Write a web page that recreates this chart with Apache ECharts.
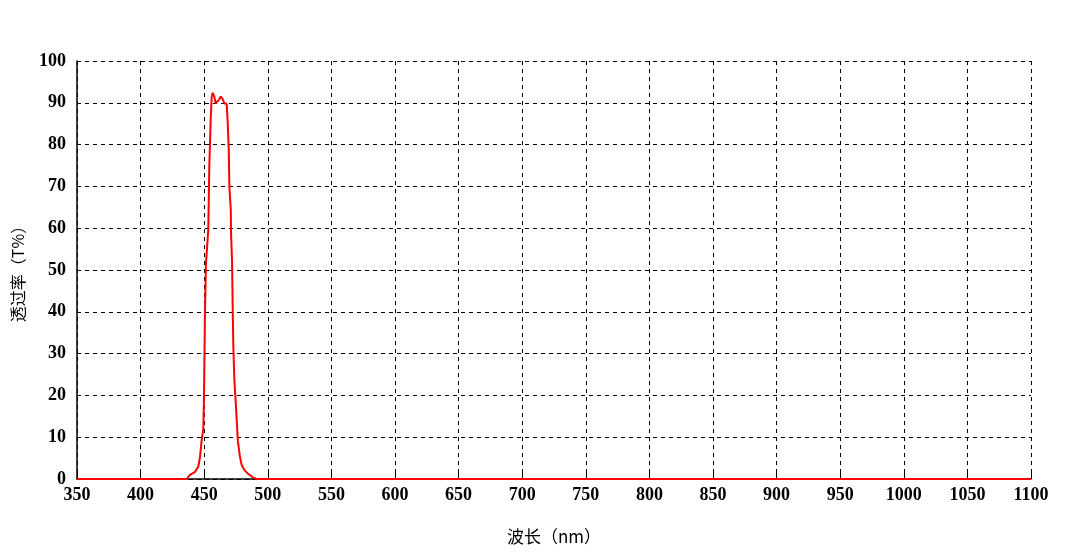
<!DOCTYPE html>
<html>
<head>
<meta charset="utf-8">
<title>透过率曲线</title>
<script src="https://cdn.jsdelivr.net/npm/echarts@6/dist/echarts.min.js"></script>
<style>
  html, body { margin: 0; padding: 0; background: #fff; }
  #chart { width: 1069px; height: 553px; }
</style>
</head>
<body>
<div id="chart"></div>
<script>
// 波长 (nm)
var wavelength = [350, 400, 430, 436.2, 438.8, 442.8, 445.4, 446.7, 448, 449.3, 449.8, 450.6, 451.4, 453.2, 454, 455.1, 455.9,
  456.7, 457.9, 459, 460.3, 461.6, 463, 464.5, 465.8, 467.7, 468.5, 469.3, 469.8, 470.9, 471.1, 471.9, 472.4,
  472.9, 473.7, 475, 476.4, 478.1, 479.5, 482, 484.7, 488.6, 491.3, 500, 600, 700, 800, 900, 1000, 1100];
// 透过率 (%)
var transmit = [0, 0, 0, 0, 1, 1.7, 3, 5.3, 9.3, 12, 19, 39.6, 51.6, 59.6, 74.7, 85.9, 91.5,
  92.4, 91.5, 89.9, 89.9, 90.7, 91.5, 90.9, 89.9, 89.7, 85.1, 78.7, 69.9, 64.4, 58.8, 52, 41.2,
  31.7, 23.7, 17.3, 9.3, 5.3, 3.3, 2, 1.2, 0.3, 0, 0, 0, 0, 0, 0, 0, 0];

var points = wavelength.map(function (w, i) { return [w, transmit[i]]; });

var chart = echarts.init(document.getElementById('chart'));
var numFont = { fontFamily: 'Liberation Serif', fontWeight: 'bold', fontSize: 18, color: '#000' };
var grid = { show: true, lineStyle: { color: '#000', type: [4, 4], width: 1 } };

chart.setOption({
  animation: false,
  grid: { left: 77, right: 38, top: 61, bottom: 74, containLabel: false, outerBoundsMode: 'none' },
  xAxis: {
    type: 'value',
    min: 350, max: 1100, interval: 50,
    name: '波长（nm）',
    nameLocation: 'middle',
    nameGap: 49,
    nameTextStyle: { fontFamily: 'Noto Sans CJK SC', fontSize: 17, color: '#000' },
    axisLine: { lineStyle: { color: '#000', width: 1.5 } },
    axisTick: { show: true, inside: true, length: 6, lineStyle: { color: '#000' } },
    axisLabel: Object.assign({ margin: 7, formatter: function (v) { return String(v); } }, numFont),
    splitLine: grid
  },
  yAxis: {
    type: 'value',
    min: 0, max: 100, interval: 10,
    name: '透过率（T%）',
    nameLocation: 'middle',
    nameGap: 51,
    nameTextStyle: { fontFamily: 'Noto Sans CJK SC', fontSize: 16, color: '#000' },
    axisLine: { show: true, lineStyle: { color: '#000', width: 1.5 } },
    axisTick: { show: false },
    axisLabel: Object.assign({ margin: 11 }, numFont),
    splitLine: grid
  },
  series: [{
    type: 'line',
    data: points,
    showSymbol: false,
    lineStyle: { color: '#ff0000', width: 2 },
    itemStyle: { color: '#ff0000' }
  }]
});
</script>
</body>
</html>
